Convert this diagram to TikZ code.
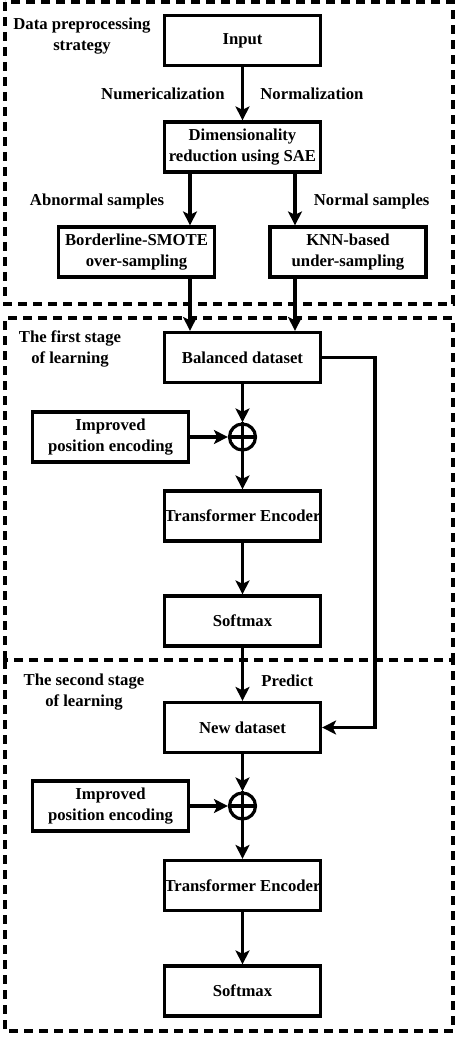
\documentclass[tikz,border=0pt]{standalone}
\usepackage{fontspec}
\setmainfont{Liberation Serif}
\usetikzlibrary{arrows.meta}

\tikzset{
  stagebox/.style={draw, line width=3.2pt, minimum width=156pt, minimum height=50pt,
    align=center, inner sep=0pt},
  stageframe/.style={line width=3.2pt, dash pattern=on 9pt off 6pt},
  plusnode/.style={draw, circle, line width=3.2pt, minimum size=26pt, inner sep=0pt},
  flow/.style={line width=3.2pt, -{Stealth[length=14pt,width=14pt,inset=3.5pt]}},
  stagelabel/.style={align=center, inner sep=0pt},
}

\begin{document}
\begin{tikzpicture}[x=1pt, y=-1pt, font=\bfseries\fontsize{16.7}{21}\selectfont]
    \useasboundingbox (0,0) rectangle (474,1056);
    % the three stages
    \draw[stageframe] (5,2) rectangle (453,304);
    \draw[stageframe] (5,660) -- (5,318) -- (453,318) -- (453,660);
    \draw[stageframe] (5,660) rectangle (453,1031);
    \node[stagelabel] (prelbl) at (82,36) {Data preprocessing\\strategy};
    \node[stagelabel] (firstlbl) at (70,348.5) {The first stage\\of learning};
    \node[stagelabel] (secondlbl) at (84,692) {The second stage\\of learning};

    % columns used by the split arrows
    \coordinate (lcol) at (190,0);
    \coordinate (rcol) at (295,0);
    \coordinate (fb) at (375,0);

    % preprocessing
    \node[stagebox] (input) at (242.5,40.5) {Input};
    \node[stagebox] (dim) at (242.5,147) {Dimensionality\\reduction using SAE};
    \node[stagebox] (bsm) at (136.5,252) {Borderline-SMOTE\\over-sampling};
    \node[stagebox] (knn) at (348,252) {KNN-based\\under-sampling};

    % first stage
    \node[stagebox] (bal) at (242.5,357.5) {Balanced dataset};
    \node[plusnode] (plus1) at (242.5,437) {};
    \node[stagebox] (ipe1) at (110.5,437) {Improved\\position encoding};
    \node[stagebox] (enc1) at (242.5,516) {Transformer Encoder};
    \node[stagebox] (soft1) at (242.5,621) {Softmax};

    % second stage
    \node[stagebox] (newd) at (242.5,727.5) {New dataset};
    \node[plusnode] (plus2) at (242.5,806) {};
    \node[stagebox] (ipe2) at (110.5,806) {Improved\\position encoding};
    \node[stagebox] (enc2) at (242.5,885.5) {Transformer Encoder};
    \node[stagebox] (soft2) at (242.5,991) {Softmax};

    % plus signs
    \draw[line width=3.2pt] (plus1.north) -- (plus1.south) (plus1.west) -- (plus1.east);
    \draw[line width=3.2pt] (plus2.north) -- (plus2.south) (plus2.west) -- (plus2.east);

    % connectors
    \draw[flow] (input.south) -- node[left=13pt] (numlbl) {Numericalization}
        node[right=13pt] (normlbl) {Normalization} (dim.north);
    \draw[flow] (dim.south -| lcol) -- node[left=21pt, yshift=-2pt] (abnlbl) {Abnormal samples} (bsm.north -| lcol);
    \draw[flow] (dim.south -| rcol) -- node[right=14pt, yshift=-2pt] (nrmlbl) {Normal samples} (knn.north -| rcol);
    \draw[flow] (bsm.south -| lcol) -- (bal.north -| lcol);
    \draw[flow] (knn.south -| rcol) -- (bal.north -| rcol);

    \draw[flow] (bal.south) -- (plus1.north);
    \draw[flow] (ipe1.east) -- (plus1.west);
    \draw[flow] (plus1.south) -- (enc1.north);
    \draw[flow] (enc1.south) -- (soft1.north);
    \draw[flow] (soft1.south) -- node[right=14pt, yshift=-7pt] (predlbl) {Predict} (newd.north);
    \draw[flow] (bal.east) -- (bal.east -| fb) -- (newd.east -| fb) -- (newd.east);

    \draw[flow] (newd.south) -- (plus2.north);
    \draw[flow] (ipe2.east) -- (plus2.west);
    \draw[flow] (plus2.south) -- (enc2.north);
    \draw[flow] (enc2.south) -- (soft2.north);
\end{tikzpicture}
\end{document}
